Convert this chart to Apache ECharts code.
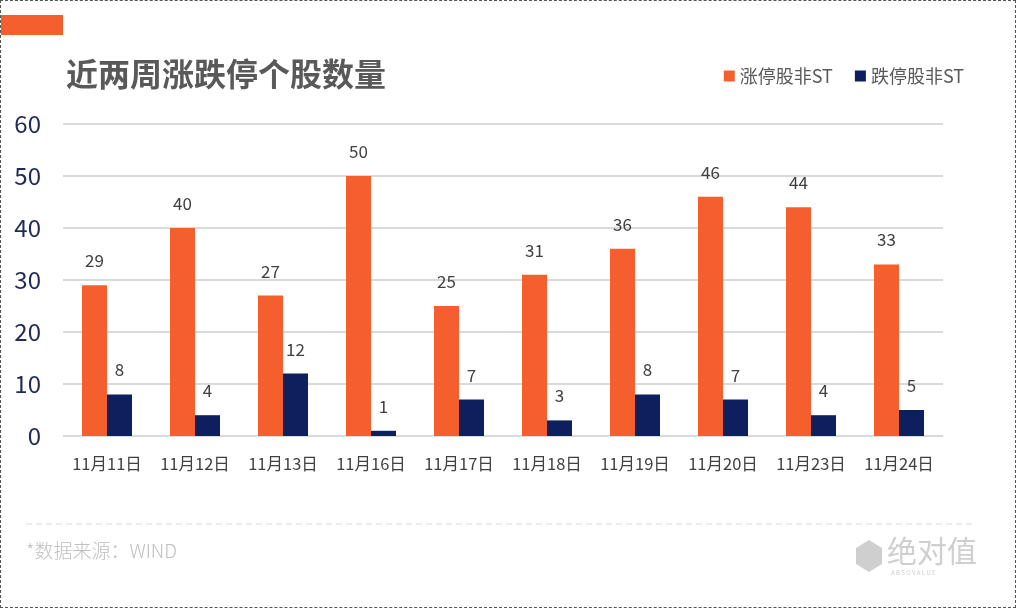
<!DOCTYPE html>
<html>
<head>
<meta charset="utf-8">
<script src="https://cdn.jsdelivr.net/npm/echarts@6/dist/echarts.min.js"></script>
<style>
html, body { margin: 0; padding: 0; background: #fff; }
#chart { width: 1016px; height: 608px; box-sizing: border-box; border: 1px dashed #555; }
</style>
</head>
<body>
<div id="chart"></div>
<script>
// 日期
const days = ["11月11日", "11月12日", "11月13日", "11月16日", "11月17日", "11月18日", "11月19日", "11月20日", "11月23日", "11月24日"]
// 涨停股非ST
const upLimit = [29, 40, 27, 50, 25, 31, 36, 46, 44, 33]
// 跌停股非ST
const downLimit = [8, 4, 12, 1, 7, 3, 8, 7, 4, 5]

const font = "'Microsoft YaHei', 'Noto Sans CJK SC', sans-serif"

let myChart = echarts.init(document.getElementById("chart"))
myChart.setOption({
    textStyle: { fontFamily: font },
    title: {
        text: "近两周涨跌停个股数量",
        left: 60,
        top: 52,
        textStyle: { fontSize: 32, fontWeight: "bold", color: "#595959", fontFamily: font }
    },
    legend: {
        right: 46,
        top: 61,
        itemWidth: 11,
        itemHeight: 11,
        itemGap: 22,
        icon: "rect",
        textStyle: { fontSize: 18, color: "#595959", fontFamily: font },
        data: ["涨停股非ST", "跌停股非ST"]
    },
    grid: {
        left: 62,
        right: 72,
        top: 123,
        bottom: 171
    },
    xAxis: {
        type: "category",
        data: days,
        axisLine: { lineStyle: { color: "#d9d9d9", width: 1 } },
        axisTick: { show: false },
        axisLabel: { interval: 0, fontSize: 16.5, color: "#404040", margin: 19 }
    },
    yAxis: {
        type: "value",
        min: 0,
        max: 60,
        interval: 10,
        axisLine: { show: false },
        axisTick: { show: false },
        splitLine: { lineStyle: { color: "#d9d9d9", width: 2 } },
        axisLabel: { fontSize: 24, color: "#1f2a56", margin: 22, fontFamily: font }
    },
    series: [
        {
            name: "涨停股非ST",
            type: "bar",
            data: upLimit,
            barWidth: 25,
            barGap: "0%",
            itemStyle: { color: "#f55e2d" },
            label: { show: true, position: "top", distance: 16, fontSize: 17, color: "#404040" }
        },
        {
            name: "跌停股非ST",
            type: "bar",
            data: downLimit,
            barWidth: 25,
            itemStyle: { color: "#0e1f5e" },
            label: { show: true, position: "top", distance: 16, fontSize: 17, color: "#404040" }
        }
    ],
    graphic: [
        { type: "rect", left: 0, top: 14, shape: { width: 62, height: 20 }, style: { fill: "#f55e2d" } },
        { type: "line", shape: { x1: 25, y1: 523, x2: 975, y2: 523 }, style: { stroke: "#d9d9d9", lineDash: [6, 4], lineWidth: 1 } },
        { type: "text", left: 25, top: 540, style: { text: "*数据来源：WIND", fontSize: 19, fill: "#bfbfbf", fontFamily: font, fontWeight: 300 } },
        // 水印 logo
        { type: "polygon", shape: { points: [[868, 539], [881, 547], [881, 563], [868, 571], [855, 563], [855, 547]] }, style: { fill: "#cfcfcf" } },
        { type: "text", left: 886, top: 535, style: { text: "绝对值", fontSize: 30, fill: "#cfcfcf", fontFamily: font } },
        { type: "text", left: 890, top: 569, style: { text: "A B S O V A L U E", fontSize: 6, fill: "#cfcfcf", fontFamily: font } }
    ]
})
</script>
</body>
</html>
